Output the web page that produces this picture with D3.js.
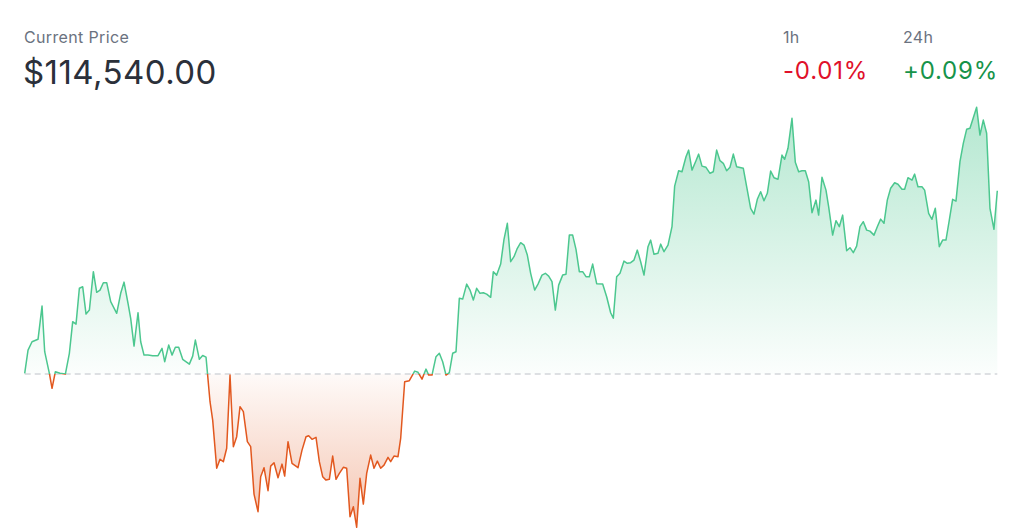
<!DOCTYPE html>
<html>
<head>
<meta charset="utf-8">
<script src="https://cdn.jsdelivr.net/npm/d3@7"></script>
<style>
  body { margin: 0; background: #fff; }
  svg { display: block; font-family: Inter, "Noto Sans", sans-serif; }
</style>
</head>
<body>
<div id="chart"></div>
<script>
var svgWidth = 1024;
var svgHeight = 528;

var margin = { top: 107.3, right: 26.7, bottom: 0.7, left: 24.7 };

// header values
var priceLabel = 'Current Price';
var currentPrice = '$114,540.00';
var changeLabels = ['1h', '24h'];
var changeValues = ['-0.01%', '+0.09%'];

// price 24h ago, drawn as the dashed reference line
var openPrice = 114450;

// minutes since start of the window
var minutes = [
  0, 5, 11, 20, 26, 30, 37, 41, 46, 53, 61, 67, 72, 77, 82, 87, 92, 97, 103, 108,
  113, 118, 123, 129, 138, 144, 149, 155, 159, 164, 170, 174, 179, 185, 192, 200, 206, 210, 216, 221,
  226, 231, 237, 247, 252, 256, 262, 267, 272, 278, 282, 288, 293, 298, 303, 308, 313, 318, 323, 328,
  334, 339, 344, 350, 354, 359, 365, 369, 374, 380, 386, 390, 395, 401, 410, 416, 422, 426, 431, 437,
  442, 447, 452, 457, 462, 467, 472, 478, 483, 488, 493, 498, 503, 508, 513, 519, 524, 529, 534, 539,
  545, 549, 554, 560, 564, 570, 577, 585, 590, 596, 602, 606, 611, 617, 622, 627, 632, 637, 642, 647,
  652, 657, 663, 668, 673, 678, 683, 688, 693, 699, 703, 708, 714, 719, 724, 729, 734, 739, 744, 749,
  754, 759, 765, 770, 776, 781, 786, 791, 796, 801, 807, 812, 817, 822, 827, 832, 837, 842, 847, 852,
  858, 867, 873, 879, 883, 888, 893, 899, 904, 909, 914, 919, 924, 929, 935, 939, 944, 950, 954, 959,
  965, 971, 975, 981, 986, 992, 996, 1001, 1007, 1011, 1016, 1022, 1028, 1033, 1038, 1043, 1048, 1053, 1058, 1063,
  1068, 1073, 1078, 1083, 1089, 1094, 1099, 1104, 1109, 1114, 1119, 1124, 1130, 1136, 1140, 1145, 1151, 1156, 1161, 1166,
  1171, 1176, 1181, 1187, 1191, 1196, 1202, 1206, 1212, 1217, 1222, 1227, 1233, 1238, 1243, 1248, 1253, 1258, 1263, 1268,
  1274, 1279, 1284, 1289, 1294, 1299, 1305, 1310, 1316, 1320, 1325, 1331, 1335, 1340, 1346, 1350, 1356, 1361, 1366, 1372,
  1377, 1382, 1387, 1392, 1397, 1403, 1408, 1413, 1418, 1428, 1433, 1438, 1443, 1448, 1454, 1459
];

var prices = [
  114450.4, 114462.0, 114466.2, 114467.4, 114484.0, 114461.2, 114450.4, 114442.9, 114451.2, 114450.4,
  114450.0, 114460.4, 114476.2, 114475.0, 114492.9, 114493.7, 114480.0, 114482.0, 114501.2, 114490.9,
  114492.0, 114495.7, 114495.7, 114486.2, 114480.4, 114490.4, 114496.0, 114485.4, 114477.9, 114464.0,
  114480.7, 114466.2, 114459.5, 114459.5, 114459.2, 114459.2, 114462.9, 114456.2, 114464.5, 114459.5,
  114463.4, 114463.4, 114457.4, 114455.0, 114459.0, 114467.0, 114457.4, 114459.3, 114458.5, 114436.2,
  114427.0, 114402.9, 114407.4, 114406.2, 114412.9, 114449.5, 114413.7, 114418.7, 114433.7, 114431.2,
  114416.2, 114413.7, 114390.0, 114381.2, 114398.7, 114403.2, 114391.7, 114404.0, 114405.7, 114398.2,
  114405.0, 114399.0, 114416.2, 114405.4, 114403.2, 114412.0, 114418.7, 114419.2, 114417.4, 114418.4,
  114406.2, 114398.7, 114397.0, 114397.4, 114409.0, 114397.4, 114400.4, 114403.4, 114402.9, 114378.7,
  114383.7, 114373.4, 114397.9, 114385.0, 114400.4, 114409.5, 114402.9, 114406.5, 114402.9, 114404.5,
  114408.4, 114406.2, 114409.0, 114408.7, 114417.9, 114446.2, 114446.7, 114451.5, 114450.9, 114447.5,
  114452.5, 114449.5, 114449.5, 114458.7, 114460.4, 114456.2, 114449.5, 114450.7, 114460.4, 114461.2,
  114487.9, 114487.5, 114495.0, 114492.0, 114487.0, 114492.9, 114490.4, 114490.7, 114490.0, 114488.4,
  114501.2, 114499.5, 114505.0, 114517.4, 114525.4, 114506.2, 114508.7, 114512.9, 114515.7, 114514.5,
  114509.5, 114500.4, 114492.0, 114495.0, 114499.5, 114500.4, 114499.0, 114496.2, 114482.0, 114494.5,
  114499.5, 114499.9, 114519.5, 114519.5, 114512.4, 114501.2, 114501.2, 114498.7, 114498.7, 114505.0,
  114495.2, 114495.0, 114488.7, 114480.7, 114477.9, 114498.7, 114500.4, 114506.5, 114505.4, 114505.7,
  114507.0, 114512.0, 114506.2, 114499.5, 114513.7, 114517.0, 114509.9, 114510.4, 114515.0, 114511.2,
  114514.5, 114523.7, 114544.0, 114551.7, 114551.2, 114558.7, 114562.0, 114552.0, 114556.7, 114560.0,
  114554.0, 114553.4, 114550.4, 114551.2, 114562.0, 114556.7, 114555.4, 114551.7, 114553.4, 114560.0,
  114553.7, 114553.3, 114552.9, 114543.7, 114532.9, 114530.0, 114537.4, 114541.2, 114536.7, 114540.4,
  114551.5, 114548.2, 114547.4, 114559.5, 114557.4, 114562.9, 114577.9, 114555.9, 114551.2, 114551.7,
  114551.7, 114546.2, 114530.7, 114537.0, 114529.5, 114548.4, 114542.0, 114533.7, 114519.5, 114526.7,
  114523.7, 114529.5, 114511.7, 114513.2, 114510.7, 114514.0, 114523.7, 114526.2, 114522.0, 114521.5,
  114519.5, 114523.7, 114527.5, 114525.4, 114537.0, 114542.9, 114545.7, 114544.9, 114542.4, 114542.4,
  114548.2, 114547.0, 114550.0, 114543.7, 114543.7, 114542.0, 114530.4, 114527.4, 114532.9, 114513.7,
  114517.0, 114517.0, 114527.0, 114537.4, 114536.5, 114556.2, 114565.4, 114572.4, 114572.9, 114583.4,
  114569.5, 114577.0, 114570.4, 114532.9, 114522.4, 114541.7
];

var upColor = '#4cc78f';
var downColor = '#e2581f';

var width = svgWidth - margin.left - margin.right;
var height = svgHeight - margin.top - margin.bottom;

var data = minutes.map(function(m, i) {
  return { t: m, p: prices[i] };
});

var svg = d3.select('#chart')
  .append('svg')
  .attr('width', svgWidth)
  .attr('height', svgHeight);

var x = d3.scaleLinear()
  .domain(d3.extent(minutes))
  .range([margin.left, margin.left + width]);

var y = d3.scaleLinear()
  .domain(d3.extent(prices))
  .range([margin.top + height, margin.top]);

var base = y(openPrice);

var defs = svg.append('defs');

var upGrad = defs.append('linearGradient')
  .attr('id', 'upGrad')
  .attr('gradientUnits', 'userSpaceOnUse')
  .attr('x1', 0).attr('x2', 0)
  .attr('y1', margin.top).attr('y2', base);
upGrad.append('stop').attr('offset', '0%').attr('stop-color', upColor).attr('stop-opacity', 0.42);
upGrad.append('stop').attr('offset', '100%').attr('stop-color', upColor).attr('stop-opacity', 0.02);

var downGrad = defs.append('linearGradient')
  .attr('id', 'downGrad')
  .attr('gradientUnits', 'userSpaceOnUse')
  .attr('x1', 0).attr('x2', 0)
  .attr('y1', base).attr('y2', margin.top + height);
downGrad.append('stop').attr('offset', '0%').attr('stop-color', downColor).attr('stop-opacity', 0.03);
downGrad.append('stop').attr('offset', '100%').attr('stop-color', downColor).attr('stop-opacity', 0.35);

defs.append('clipPath').attr('id', 'clipUp')
  .append('rect')
  .attr('x', 0).attr('y', 0)
  .attr('width', svgWidth).attr('height', base);

defs.append('clipPath').attr('id', 'clipDown')
  .append('rect')
  .attr('x', 0).attr('y', base)
  .attr('width', svgWidth).attr('height', svgHeight - base);

var area = d3.area()
  .x(function(d) { return x(d.t); })
  .y0(base)
  .y1(function(d) { return y(d.p); });

var line = d3.line()
  .x(function(d) { return x(d.t); })
  .y(function(d) { return y(d.p); });

svg.append('path')
  .datum(data)
  .attr('clip-path', 'url(#clipUp)')
  .attr('fill', 'url(#upGrad)')
  .attr('d', area);

svg.append('path')
  .datum(data)
  .attr('clip-path', 'url(#clipDown)')
  .attr('fill', 'url(#downGrad)')
  .attr('d', area);

svg.append('line')
  .attr('x1', margin.left)
  .attr('x2', margin.left + width)
  .attr('y1', base)
  .attr('y2', base)
  .attr('stroke', '#d4d6da')
  .attr('stroke-width', 1.5)
  .attr('stroke-dasharray', '6,4');

svg.append('path')
  .datum(data)
  .attr('clip-path', 'url(#clipUp)')
  .attr('fill', 'none')
  .attr('stroke', upColor)
  .attr('stroke-width', 1.5)
  .attr('stroke-linejoin', 'round')
  .attr('d', line);

svg.append('path')
  .datum(data)
  .attr('clip-path', 'url(#clipDown)')
  .attr('fill', 'none')
  .attr('stroke', downColor)
  .attr('stroke-width', 1.5)
  .attr('stroke-linejoin', 'round')
  .attr('d', line);

// header
svg.append('text')
  .attr('x', 24)
  .attr('y', 43)
  .attr('fill', '#6b7280')
  .style('font-size', '16px')
  .style('letter-spacing', '0.35px')
  .text(priceLabel);

svg.append('text')
  .attr('x', 23)
  .attr('y', 84)
  .attr('fill', '#2b303a')
  .style('font-size', '33px')
  .style('letter-spacing', '0.45px')
  .text(currentPrice);

var changeX = [783, 903];
var changeColors = ['#e0102a', '#16934a'];

changeLabels.forEach(function(lbl, i) {
  svg.append('text')
    .attr('x', changeX[i])
    .attr('y', 43)
    .attr('fill', '#6b7280')
    .style('font-size', '16px')
    .style('letter-spacing', '0.35px')
    .text(lbl);

  svg.append('text')
    .attr('x', changeX[i])
    .attr('y', 79)
    .attr('fill', changeColors[i])
    .style('font-size', '24px')
    .style('letter-spacing', '0.8px')
    .text(changeValues[i]);
});
</script>
</body>
</html>
